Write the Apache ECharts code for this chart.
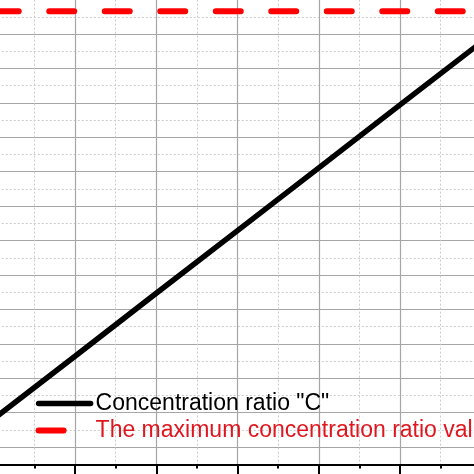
<!DOCTYPE html>
<html>
<head>
<meta charset="utf-8">
<script src="https://cdn.jsdelivr.net/npm/echarts@6/dist/echarts.min.js"></script>
<style>
html,body{margin:0;padding:0;background:#fff;}
#chart{width:474px;height:474px;}
</style>
</head>
<body>
<div id="chart"></div>
<script>
// x positions (major grid lines) and values
const xValues = [0, 1, 2, 3, 4, 5, 6];
const concentrationC = [0.182, 0.364, 0.547, 0.729, 0.911, 1.094, 1.276];
const maxX = [0, 6];
const maxC = [1.366, 1.366];
const seriesNames = ['Concentration ratio "C"', 'The maximum concentration ratio value'];

const chart = echarts.init(document.getElementById('chart'), null, {renderer: 'canvas'});

const xMin = 0, xMax = 6, xInt = 1;
const yMin = 0, yMax = 1.4, yInt = 0.1;

const option = {
  animation: false,
  backgroundColor: '#ffffff',
  grid: [
    {left: -6.25, right: -7.25, top: -0.4, bottom: -7.5, containLabel: false, outerBoundsMode: 'none'},
    {left: -6.25, right: -7.25, top: -0.4, bottom: 9.5, containLabel: false, outerBoundsMode: 'none'}
  ],
  legend: {
    orient: 'vertical',
    left: 35.6,
    top: 392,
    padding: 0,
    itemWidth: 52,
    itemHeight: 14,
    itemGap: 4,
    lineStyle: {width: 'inherit', type: 'inherit', cap: 'inherit'},
    itemStyle: {color: 'rgba(0,0,0,0)', borderWidth: 0, opacity: 0},
    textStyle: {fontFamily: 'Liberation Sans, Arial, sans-serif', fontSize: 23},
    data: [
      {name: seriesNames[0], textStyle: {color: '#000000'}},
      {name: seriesNames[1], textStyle: {color: '#e0161e'}}
    ]
  },
  xAxis: [
    {
      type: 'value', gridIndex: 0, min: xMin, max: xMax, interval: xInt,
      offset: -17,
      axisLine: {show: true, onZero: false, lineStyle: {color: '#000', width: 2}},
      axisTick: {show: true, length: 10, lineStyle: {color: '#000', width: 2}},
      minorTick: {show: true, splitNumber: 2, length: 4, lineStyle: {color: '#000', width: 2}},
      axisLabel: {show: false},
      splitLine: {show: false}
    },
    {
      type: 'value', gridIndex: 1, min: xMin, max: xMax, interval: xInt,
      axisLine: {show: false}, axisTick: {show: false}, axisLabel: {show: false},
      splitLine: {show: true, lineStyle: {color: '#a6a6a6', width: 1.2}},
      minorTick: {show: false, splitNumber: 2},
      minorSplitLine: {show: true, lineStyle: {color: '#cccccc', width: 1, type: [2, 2]}}
    }
  ],
  yAxis: [
    {
      type: 'value', gridIndex: 0, min: yMin, max: yMax, interval: yInt,
      axisLine: {show: false}, axisTick: {show: false}, axisLabel: {show: false},
      splitLine: {show: true, lineStyle: {color: '#a6a6a6', width: 1.2}},
      minorTick: {show: false, splitNumber: 2},
      minorSplitLine: {show: true, lineStyle: {color: '#cccccc', width: 1, type: [2, 2]}}
    },
    {
      type: 'value', gridIndex: 1, min: 0, max: 1,
      axisLine: {show: false}, axisTick: {show: false}, axisLabel: {show: false},
      splitLine: {show: false}
    }
  ],
  series: [
    {
      name: seriesNames[0],
      type: 'line',
      xAxisIndex: 0, yAxisIndex: 0,
      data: xValues.map((x, i) => [x, concentrationC[i]]),
      symbol: 'none',
      lineStyle: {color: '#000000', width: 5.5, cap: 'round'},
      itemStyle: {color: '#000000'},
      z: 3
    },
    {
      name: seriesNames[1],
      type: 'line',
      xAxisIndex: 0, yAxisIndex: 0,
      data: maxX.map((x, i) => [x, maxC[i]]),
      symbol: 'none',
      lineStyle: {color: '#ff0000', width: 6, type: [25, 30.5], cap: 'round'},
      itemStyle: {color: '#ff0000'},
      z: 3
    }
  ]
};
chart.setOption(option);
</script>
</body>
</html>
